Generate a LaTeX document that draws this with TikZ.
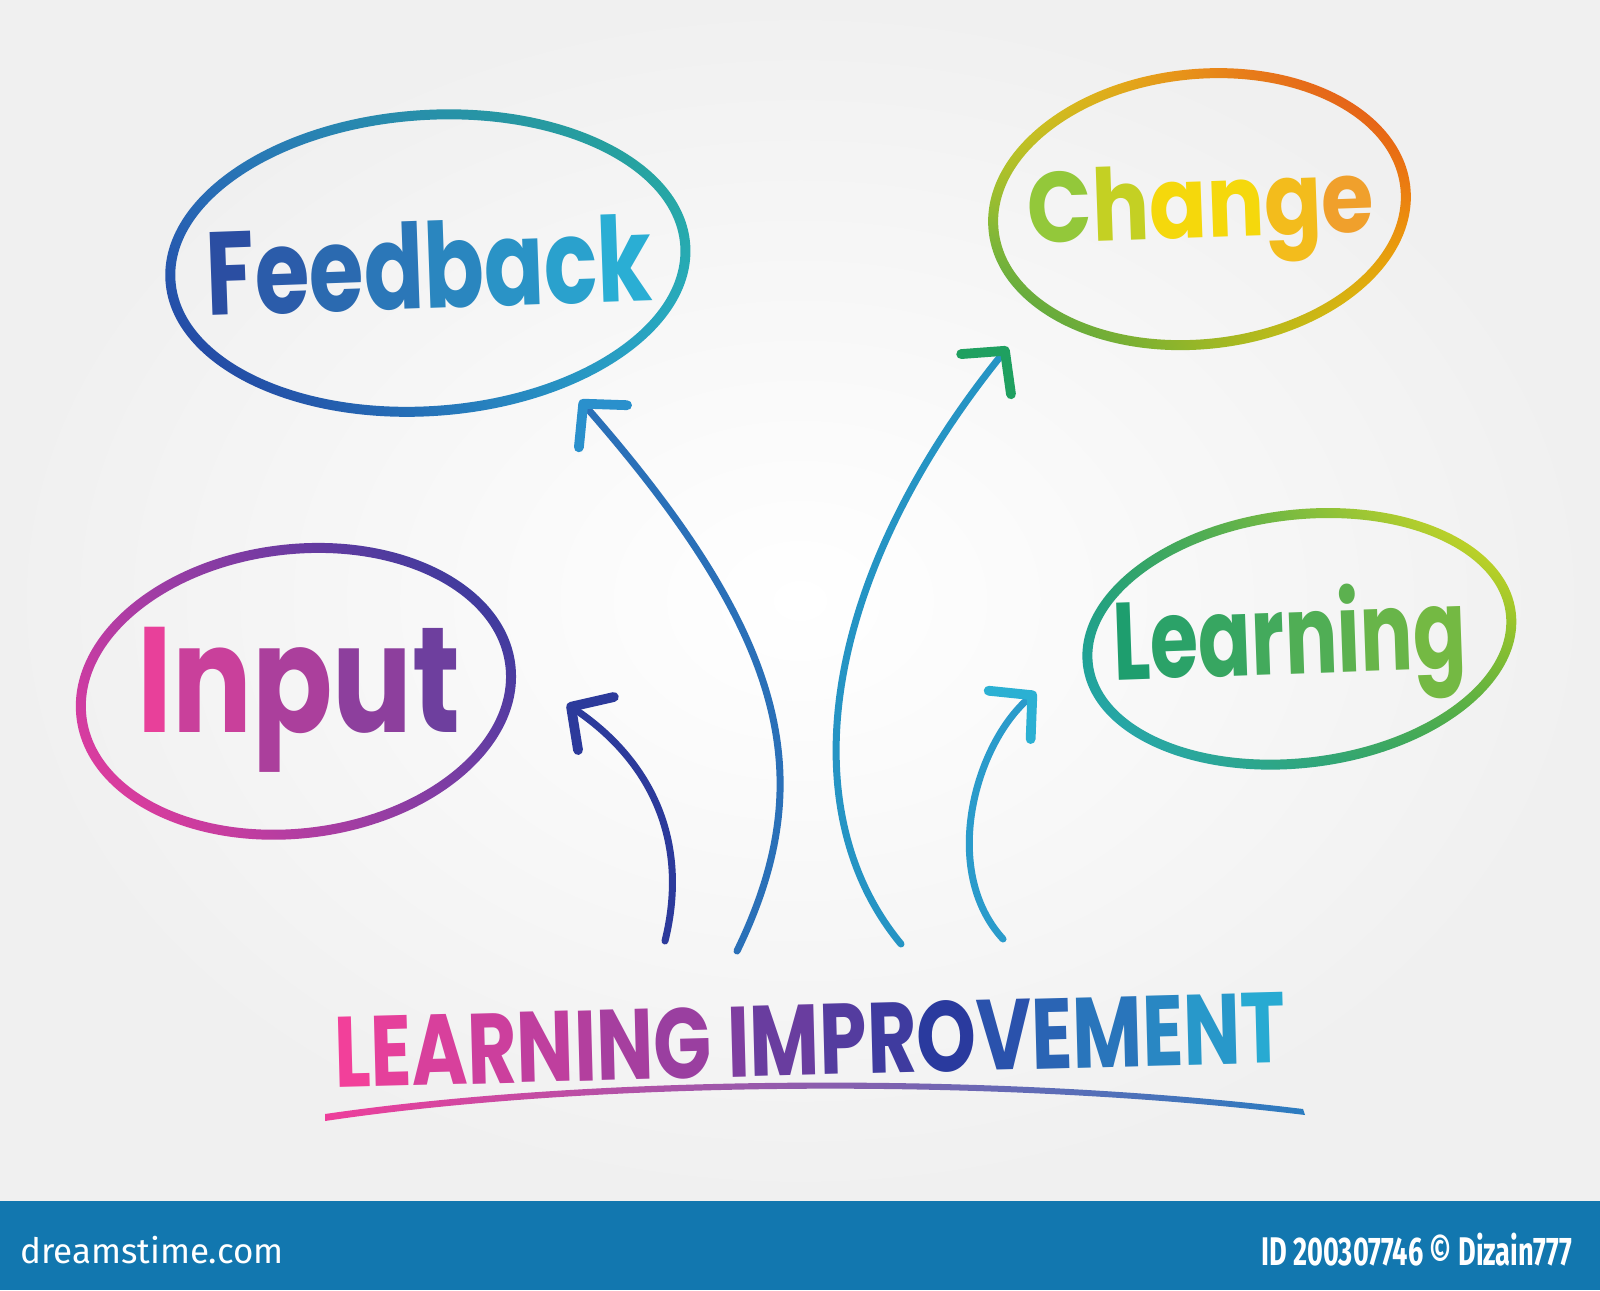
\documentclass[tikz,border=0pt]{standalone}
\usepackage{fontspec}
\newfontfamily\handfont{Poppins}
\newfontfamily\barfont{Fira Sans}
\usetikzlibrary{arrows.meta, calc, shadings}
\tikzset{>={Straight Barb[length=30pt,width=64pt,line width=0pt 1.4,round]}}

\definecolor{bgedge}{HTML}{F0F0F0}
\definecolor{barblue}{HTML}{1277AF}
% word colours
\definecolor{fbA}{HTML}{2B4EA2}\definecolor{fbB}{HTML}{2AAED4}
\definecolor{chA}{HTML}{93C83A}\definecolor{chB}{HTML}{F5D80C}\definecolor{chC}{HTML}{F0A02C}
\definecolor{inA}{HTML}{E8409A}\definecolor{inB}{HTML}{6E3F9E}
\definecolor{leA}{HTML}{1E9E6E}\definecolor{leB}{HTML}{74B943}
\definecolor{tiA}{HTML}{F2409A}\definecolor{tiB}{HTML}{9A3FA0}
\definecolor{tiC}{HTML}{7E3EA0}\definecolor{tiD}{HTML}{2A3A9E}
\definecolor{tiE}{HTML}{2A52AC}\definecolor{tiF}{HTML}{28AAD2}
% ring colours
\definecolor{fbUL}{HTML}{2A78C0}\definecolor{fbUR}{HTML}{25A892}
\definecolor{fbLL}{HTML}{21339A}\definecolor{fbLR}{HTML}{2AB0D8}
\definecolor{chUL}{HTML}{E8D818}\definecolor{chUR}{HTML}{E8401A}
\definecolor{chLL}{HTML}{30A050}\definecolor{chLR}{HTML}{F5D200}
\definecolor{inUL}{HTML}{B03CA8}\definecolor{inUR}{HTML}{233A9A}
\definecolor{inLL}{HTML}{F53C9A}\definecolor{inLR}{HTML}{7A3EA8}
\definecolor{leUL}{HTML}{1A9A60}\definecolor{leUR}{HTML}{E8E01A}
\definecolor{leLL}{HTML}{22A8C8}\definecolor{leLR}{HTML}{30A040}
% underline and arrows
\definecolor{ulA}{HTML}{EE3E9B}\definecolor{ulB}{HTML}{4A3CA0}\definecolor{ulC}{HTML}{2A7CC0}
\definecolor{arOne}{HTML}{2C3A9B}
\definecolor{arTwo}{HTML}{2A70B8}\definecolor{arTwoTip}{HTML}{2A90CC}
\definecolor{arThree}{HTML}{2594C4}\definecolor{arThreeTip}{HTML}{1FA060}
\definecolor{arFour}{HTML}{2A9BCB}\definecolor{arFourTip}{HTML}{2BB0D3}

% letters coloured from #1 to #2, #3 letters
\newcommand\gradword[4]{\foreach \ltr [count=\i] in {#4}{\pgfmathtruncatemacro\mixpct{100-100*(\i-1)/(#3-1)}\textcolor{#1!\mixpct!#2}{\ltr}}}
\newcommand\handsize[2]{\handfont\bfseries\addfontfeatures{FakeStretch=#2}\fontsize{#1}{#1}\selectfont}

\begin{document}
\begin{tikzpicture}[x=1pt, y=-1pt,
  word/.style={inner sep=0pt},
  ring/.style={even odd rule},
  link/.style={line width=7pt, line cap=round}]

    %Background
    \useasboundingbox (0,0) rectangle (1600,1290);
    \shade[inner color=white, outer color=bgedge] (0,0) rectangle (1600,1201);
    \fill[barblue] (0,1201) rectangle (1600,1290);

    %Nodes
    \node[word, font=\handsize{118}{0.75}, rotate=2] (feedback) at (429,265) {\gradword{fbA}{fbB}{8}{F,e,e,d,b,a,c,k}};
    \node[word, font=\handsize{100}{0.85}, rotate=2] (change) at (1201,214) {\gradword{chA}{chB}{3}{C,h,a}\gradword{chB}{chC}{3}{n,g,e}};
    \node[word, font=\handsize{150}{0.79}] (input) at (299,700) {\gradword{inA}{inB}{5}{I,n,p,u,t}};
    \node[word, font=\handsize{110}{0.71}, rotate=2] (learning) at (1290,645) {\gradword{leA}{leB}{8}{L,e,a,r,n,i,n,g}};
    \node[word, font=\handsize{100}{0.76}, rotate=1.5] (title) at (810,1040) {\gradword{tiA}{tiB}{8}{L,E,A,R,N,I,N,G}\ \gradword{tiC}{tiD}{5}{I,M,P,R,O}\gradword{tiE}{tiF}{6}{V,E,M,E,N,T}};
    \node[word, font=\barfont\fontsize{35}{35}\selectfont, text=white, anchor=west] (brand) at (20,1250) {dreamstime.com};
    \node[word, font=\barfont\bfseries\addfontfeatures{FakeStretch=0.68}\fontsize{40}{40}\selectfont, text=white, anchor=east] (credit) at (1572,1250) {ID 200307746 © Dizain777};

    %Rings
    \shade[ring, upper left=fbUL, upper right=fbUR, lower left=fbLL, lower right=fbLR, rotate around={4:(feedback.center)}]
      ($(feedback.center)+(-1,-2)$) ellipse [x radius=263, y radius=153] ($(feedback.center)+(-1,-2)$) ellipse [x radius=253, y radius=143];
    \shade[ring, upper left=chUL, upper right=chUR, lower left=chLL, lower right=chLR, rotate around={6:(change.center)}]
      ($(change.center)+(-1,-5)$) ellipse [x radius=212, y radius=140] ($(change.center)+(-1,-5)$) ellipse [x radius=202, y radius=130];
    \shade[ring, upper left=inUL, upper right=inUR, lower left=inLL, lower right=inLR, rotate around={7:(input.center)}]
      ($(input.center)+(-2,-9)$) ellipse [x radius=221, y radius=147] ($(input.center)+(-2,-9)$) ellipse [x radius=211, y radius=137];
    \shade[ring, upper left=leUL, upper right=leUR, lower left=leLL, lower right=leLR, rotate around={7:(learning.center)}]
      ($(learning.center)+(10,-5)$) ellipse [x radius=218, y radius=129] ($(learning.center)+(10,-5)$) ellipse [x radius=208, y radius=119];

    %Underline
    \shade[left color=ulA, middle color=ulB, right color=ulC]
      (325,1121) .. controls (600,1080) and (1000,1078) .. (1305,1115) -- (1303,1109) .. controls (1000,1072) and (600,1074) .. (325,1114) -- cycle;

    %Arrow ends
    \coordinate (fromone) at (665,941);
    \coordinate (toinput) at (567,704);
    \coordinate (fromtwo) at (737,951);
    \coordinate (tofeedback) at (580,400);
    \coordinate (fromthree) at (901,944);
    \coordinate (tochange) at (1008,347);
    \coordinate (fromfour) at (1003,939);
    \coordinate (tolearning) at (1036,692);

    %Lines
    \draw[link, arOne, ->] (fromone) .. controls (690,840) and (650,760) .. (toinput);
    \draw[link, arTwo, -{Straight Barb[length=30pt,width=64pt,line width=0pt 1.4,round,color=arTwoTip]}] (fromtwo) .. controls (820,780) and (790,640) .. (tofeedback);
    \draw[link, arThree, -{Straight Barb[length=30pt,width=64pt,line width=0pt 1.4,round,color=arThreeTip]}] (fromthree) .. controls (790,810) and (820,580) .. (tochange);
    \draw[link, arFour, -{Straight Barb[length=30pt,width=64pt,line width=0pt 1.4,round,color=arFourTip]}] (fromfour) .. controls (940,870) and (975,745) .. (tolearning);

\end{tikzpicture}
\end{document}
